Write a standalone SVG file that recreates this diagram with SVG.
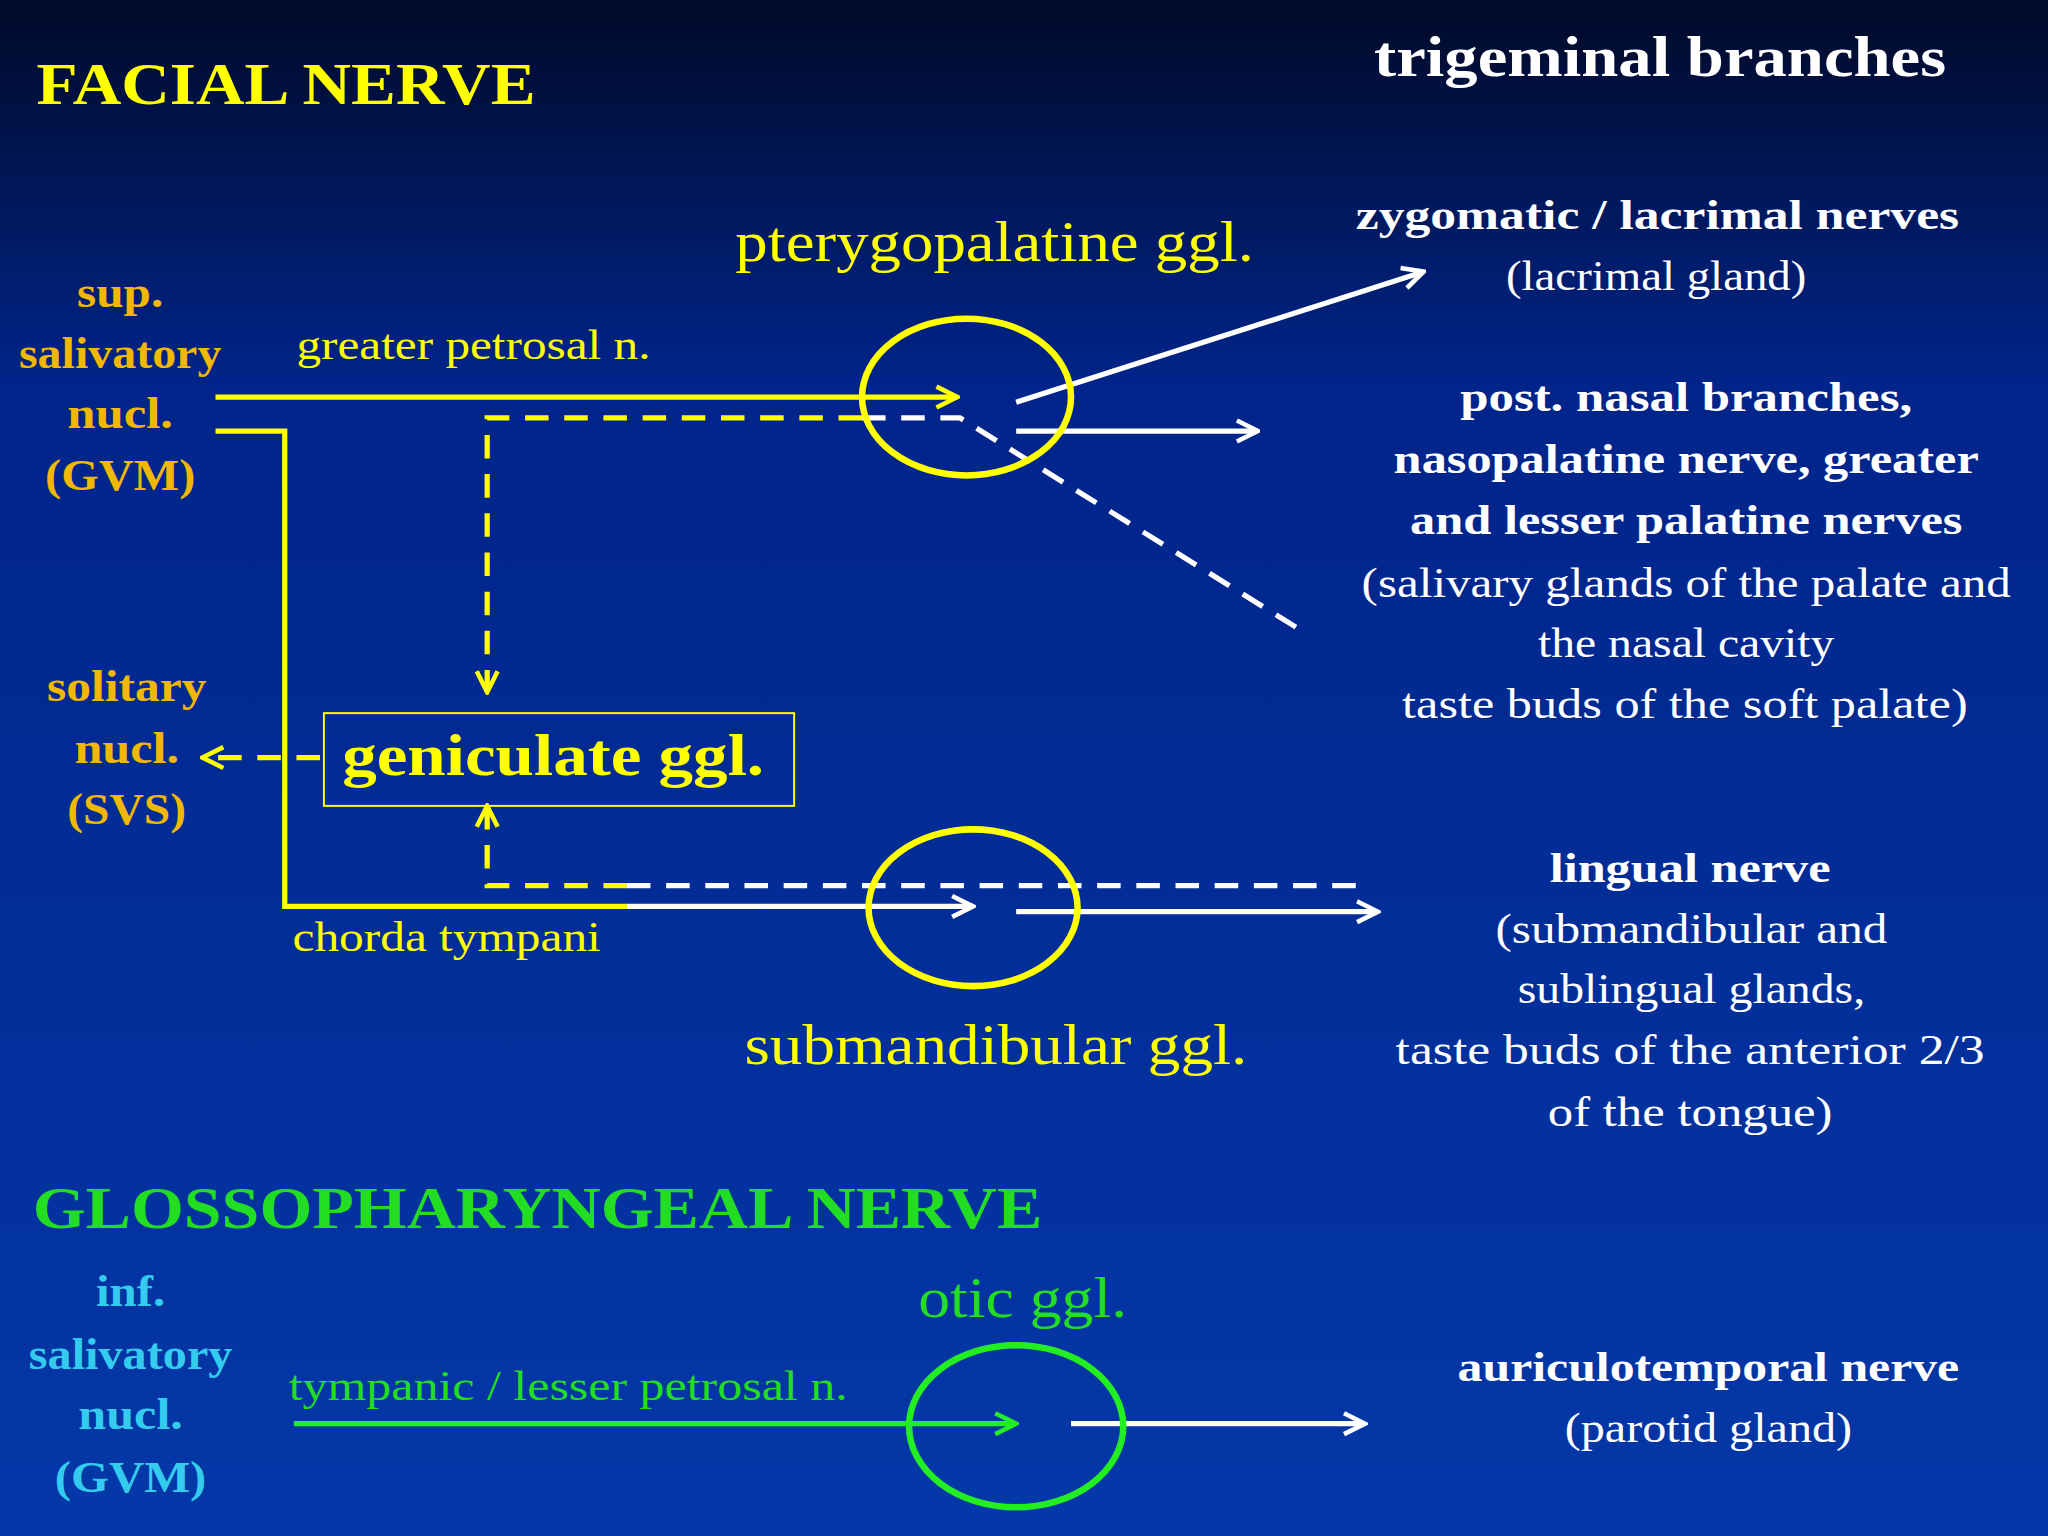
<svg xmlns="http://www.w3.org/2000/svg" width="2048" height="1536" viewBox="0 0 2048 1536">
<defs>
<linearGradient id="bg" x1="0" y1="0" x2="0" y2="1">
<stop offset="0" stop-color="#000a28"/><stop offset="0.25" stop-color="#00248a"/><stop offset="1" stop-color="#0438a8"/>
</linearGradient>
<marker id="aw" viewBox="0 0 20 20" refX="18" refY="10" markerWidth="20" markerHeight="20" markerUnits="userSpaceOnUse" orient="auto"><path d="M2,2 L18,10 L2,18" fill="none" stroke="#fff" stroke-width="3.5"/></marker>
<marker id="ay" viewBox="0 0 20 20" refX="18" refY="10" markerWidth="20" markerHeight="20" markerUnits="userSpaceOnUse" orient="auto"><path d="M2,2 L18,10 L2,18" fill="none" stroke="#ffff00" stroke-width="3.5"/></marker>
<marker id="ag" viewBox="0 0 20 20" refX="18" refY="10" markerWidth="20" markerHeight="20" markerUnits="userSpaceOnUse" orient="auto"><path d="M2,2 L18,10 L2,18" fill="none" stroke="#22ee22" stroke-width="3.5"/></marker>
<style>
text{font-family:"Liberation Serif",serif}
.b{font-weight:bold}
.y{fill:#ffff00}.o{fill:#f0b800}.w{fill:#fff}.g{fill:#22dd22}.c{fill:#33ccee}
.m{text-anchor:middle}
.ly{stroke:#ffff00;stroke-width:4;fill:none}
.lw{stroke:#fff;stroke-width:4;fill:none}
.lg{stroke:#22ee22;stroke-width:4;fill:none}
.d{stroke-dasharray:18,12}
</style>
</defs>
<rect width="2048" height="1536" fill="url(#bg)"/>
<g transform="scale(1.30612)">
<g id="connectors">
<path class="ly" d="M165,304 H733" marker-end="url(#ay)"/>
<path class="ly" d="M165,330 H218 V694 H480"/>
<path class="ly d" d="M660,320 H373 V530" marker-end="url(#ay)"/>
<path class="lw d" d="M660,320 H735 L1000,485"/>
<path class="lw" d="M778,308 L1090,208" marker-end="url(#aw)"/>
<path class="lw" d="M778,330 H963" marker-end="url(#aw)"/>
<path class="ly d" d="M245,580 H155" marker-end="url(#ay)"/>
<path class="ly d" d="M480,678 H373 V617" marker-end="url(#ay)"/>
<path class="lw d" d="M480,678 H1045"/>
<path class="lw" d="M480,694 H745" marker-end="url(#aw)"/>
<path class="lw" d="M778,698 H1055" marker-end="url(#aw)"/>
<path class="lg" d="M225,1090 H778" marker-end="url(#ag)"/>
<path class="lw" d="M820,1090 H1045" marker-end="url(#aw)"/>
</g>
<g id="titles" lengthAdjust="spacingAndGlyphs">
<text x="28" y="80" font-size="46" class="b y" textLength="382" lengthAdjust="spacingAndGlyphs">FACIAL NERVE</text>
<text x="1052" y="58" font-size="44" class="b w" textLength="438" lengthAdjust="spacingAndGlyphs">trigeminal branches</text>
<text x="25" y="940" font-size="46" class="b g" textLength="773" lengthAdjust="spacingAndGlyphs">GLOSSOPHARYNGEAL NERVE</text>
</g>
<g id="sup-salivatory" font-size="34" class="b o m">
<text x="92" y="235" textLength="66" lengthAdjust="spacingAndGlyphs">sup.</text><text x="92" y="282" textLength="155" lengthAdjust="spacingAndGlyphs">salivatory</text><text x="92" y="328" textLength="81" lengthAdjust="spacingAndGlyphs">nucl.</text><text x="92" y="375" textLength="115" lengthAdjust="spacingAndGlyphs">(GVM)</text>
</g>
<g id="solitary" font-size="34" class="b o m">
<text x="97" y="537" textLength="122" lengthAdjust="spacingAndGlyphs">solitary</text><text x="97" y="584" textLength="80" lengthAdjust="spacingAndGlyphs">nucl.</text><text x="97" y="631" textLength="91" lengthAdjust="spacingAndGlyphs">(SVS)</text>
</g>
<g id="inf-salivatory" font-size="34" class="b c m">
<text x="100" y="1000" textLength="53" lengthAdjust="spacingAndGlyphs">inf.</text><text x="100" y="1048" textLength="156" lengthAdjust="spacingAndGlyphs">salivatory</text><text x="100" y="1094" textLength="80" lengthAdjust="spacingAndGlyphs">nucl.</text><text x="100" y="1142" textLength="116" lengthAdjust="spacingAndGlyphs">(GVM)</text>
</g>
<g id="pterygopalatine">
<ellipse cx="740" cy="304" rx="80" ry="60" fill="none" stroke="#ffff00" stroke-width="5"/>
<text x="563" y="200" font-size="44" class="y" textLength="397" lengthAdjust="spacingAndGlyphs">pterygopalatine ggl.</text>
</g>
<g id="submandibular">
<ellipse cx="745" cy="695" rx="80" ry="60" fill="none" stroke="#ffff00" stroke-width="5"/>
<text x="570" y="815" font-size="44" class="y" textLength="385" lengthAdjust="spacingAndGlyphs">submandibular ggl.</text>
</g>
<g id="otic">
<ellipse cx="778" cy="1092" rx="82" ry="62" fill="none" stroke="#22ee22" stroke-width="5"/>
<text x="703" y="1008" font-size="44" class="g" textLength="160" lengthAdjust="spacingAndGlyphs">otic ggl.</text>
</g>
<g id="geniculate">
<rect x="248" y="546" width="360" height="71" fill="none" stroke="#ffff00" stroke-width="1.5"/>
<text x="262" y="593" font-size="46" class="b y" textLength="323" lengthAdjust="spacingAndGlyphs">geniculate ggl.</text>
</g>
<g id="labels" font-size="32">
<text x="227" y="275" class="y" textLength="271" lengthAdjust="spacingAndGlyphs">greater petrosal n.</text>
<text x="224" y="728" class="y" textLength="236" lengthAdjust="spacingAndGlyphs">chorda tympani</text>
<text x="221" y="1072" class="g" textLength="428" lengthAdjust="spacingAndGlyphs">tympanic / lesser petrosal n.</text>
</g>
<g id="zygomatic" font-size="32" class="w m">
<text x="1269" y="175" class="b" textLength="462" lengthAdjust="spacingAndGlyphs">zygomatic / lacrimal nerves</text>
<text x="1268" y="222" textLength="230" lengthAdjust="spacingAndGlyphs">(lacrimal gland)</text>
</g>
<g id="post-nasal" font-size="32" class="w m">
<text x="1291" y="315" class="b" textLength="346" lengthAdjust="spacingAndGlyphs">post. nasal branches,</text>
<text x="1291" y="362" class="b" textLength="448" lengthAdjust="spacingAndGlyphs">nasopalatine nerve, greater</text>
<text x="1291" y="409" class="b" textLength="423" lengthAdjust="spacingAndGlyphs">and lesser palatine nerves</text>
<text x="1291" y="457" textLength="497" lengthAdjust="spacingAndGlyphs">(salivary glands of the palate and</text>
<text x="1291" y="503" textLength="227" lengthAdjust="spacingAndGlyphs">the nasal cavity</text>
<text x="1290" y="550" textLength="433" lengthAdjust="spacingAndGlyphs">taste buds of the soft palate)</text>
</g>
<g id="lingual" font-size="32" class="w m">
<text x="1294" y="675" class="b" textLength="215" lengthAdjust="spacingAndGlyphs">lingual nerve</text>
<text x="1295" y="722" textLength="300" lengthAdjust="spacingAndGlyphs">(submandibular and</text>
<text x="1295" y="768" textLength="266" lengthAdjust="spacingAndGlyphs">sublingual glands,</text>
<text x="1294" y="815" textLength="451" lengthAdjust="spacingAndGlyphs">taste buds of the anterior 2/3</text>
<text x="1294" y="862" textLength="218" lengthAdjust="spacingAndGlyphs">of the tongue)</text>
</g>
<g id="auriculotemporal" font-size="32" class="w m">
<text x="1308" y="1057" class="b" textLength="384" lengthAdjust="spacingAndGlyphs">auriculotemporal nerve</text>
<text x="1308" y="1104" textLength="220" lengthAdjust="spacingAndGlyphs">(parotid gland)</text>
</g>
</g>
</svg>
